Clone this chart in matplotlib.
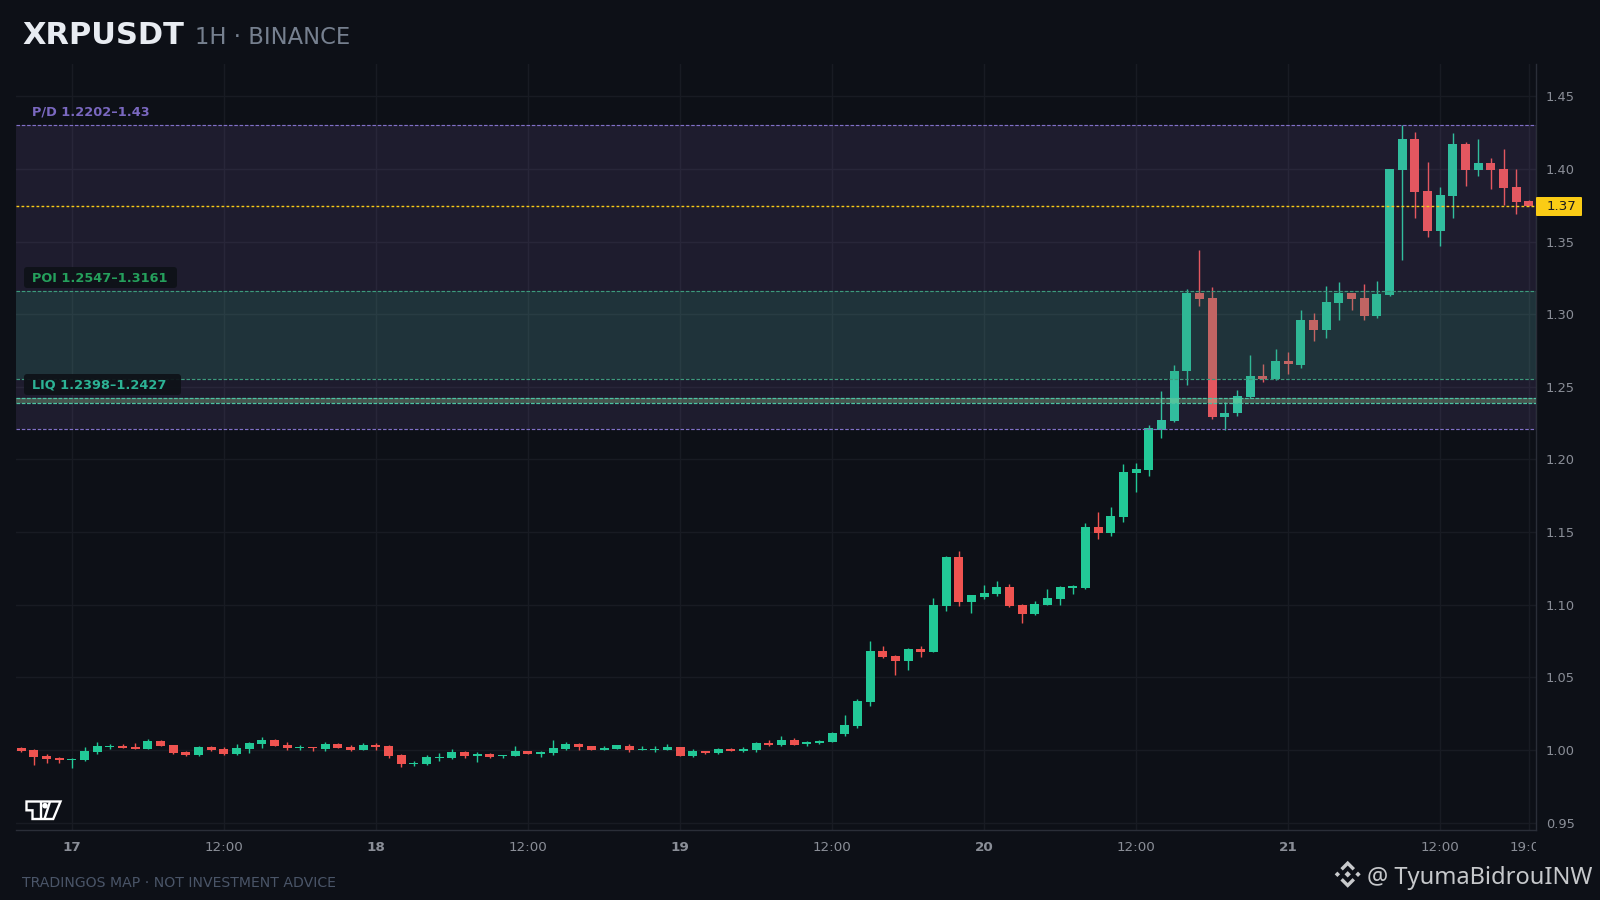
import matplotlib
matplotlib.use("Agg")
import matplotlib.pyplot as plt
import numpy as np
from matplotlib.patches import FancyBboxPatch, Polygon, Circle
from matplotlib.transforms import Affine2D, Bbox

hours = list(range(-4, 116))
opens = [1.0016,1.0002,.9963,.9947,.9933,.9933,.9989,1.0023,1.0030,1.0023,1.0009,1.0064,1.0037,.9989,.9968,1.0023,
 1.0009,.9975,1.0009,1.0044,1.0071,1.0037,1.0016,1.0023,1.0009,1.0044,1.0023,1.0002,1.0037,1.0030,.9968,.9906,
 .9906,.9947,.9947,.9989,.9961,.9975,.9961,.9961,.9995,.9975,.9982,1.0009,1.0044,1.0030,1.0002,1.0009,1.0030,1.0002,
 1.0002,1.0002,1.0023,.9961,.9995,.9982,1.0009,.9995,1.0002,1.0050,1.0037,1.0071,1.0041,1.0048,
 1.0055,1.0110,1.0165,1.0330,1.0681,1.0647,1.0612,1.0695,1.0674,1.0991,1.1328,1.1018,1.1053,1.1073,1.1122,1.0998,
 1.0936,1.0998,1.1039,1.1115,1.1115,1.1534,1.1493,1.1603,1.1906,1.1927,1.2206,1.2268,1.2606,1.3149,1.3108,1.2289,
 1.2317,1.2433,1.2578,1.2555,1.2681,1.2647,1.2963,1.2888,1.3080,1.3149,1.3108,1.2984,1.3135,1.3995,1.4202,1.3851,
 1.3569,1.3810,1.4174,1.3995,1.4037,1.4000,1.3872,1.3782]
closes = [.9995,.9954,.9940,.9933,.9941,.9995,1.0030,1.0030,1.0016,1.0009,1.0064,1.0030,.9982,.9968,1.0023,1.0002,
 .9975,1.0016,1.0050,1.0071,1.0030,1.0016,1.0023,1.0016,1.0044,1.0016,1.0002,1.0037,1.0023,.9961,.9906,.9913,
 .9954,.9954,.9989,.9961,.9975,.9954,.9968,.9995,.9975,.9989,1.0016,1.0044,1.0023,1.0002,1.0016,1.0037,1.0002,1.0009,
 1.0009,1.0023,.9961,.9995,.9982,1.0009,.9995,1.0009,1.0050,1.0037,1.0071,1.0037,1.0055,1.0062,
 1.0117,1.0172,1.0337,1.0681,1.0640,1.0612,1.0695,1.0674,1.0998,1.1328,1.1018,1.1067,1.1080,1.1122,1.0991,1.0936,
 1.1005,1.1046,1.1122,1.1128,1.1534,1.1493,1.1610,1.1913,1.1933,1.2216,1.2275,1.2612,1.3149,1.3101,1.2289,1.2323,
 1.2440,1.2578,1.2557,1.2681,1.2654,1.2963,1.2888,1.3087,1.3149,1.3101,1.2984,1.3142,1.4000,1.4202,1.3844,1.3569,
 1.3817,1.4174,1.3995,1.4037,1.3995,1.3865,1.3775,1.3743]
highs = [1.0023,1.0009,.9975,.9956,.9947,1.0023,1.0057,1.0039,1.0044,1.0050,1.0078,1.0071,1.0037,.9995,1.0030,1.0030,
 1.0023,1.0044,1.0057,1.0092,1.0078,1.0057,1.0037,1.0023,1.0057,1.0050,1.0037,1.0050,1.0050,1.0037,.9975,.9927,
 .9968,.9982,1.0009,.9995,.9989,.9982,.9968,1.0030,.9995,.9995,1.0071,1.0057,1.0050,1.0030,1.0030,1.0037,1.0044,1.0030,
 1.0030,1.0044,1.0023,1.0009,.9995,1.0016,1.0016,1.0023,1.0057,1.0071,1.0099,1.0085,1.0064,1.0069,
 1.0124,1.0241,1.0351,1.0750,1.0716,1.0654,1.0702,1.0716,1.1046,1.1335,1.1369,1.1067,1.1135,1.1163,1.1142,1.1005,
 1.1025,1.1108,1.1128,1.1135,1.1562,1.1638,1.1672,1.1968,1.1975,1.2236,1.2468,1.2647,1.3170,1.3445,1.3184,1.2399,
 1.2475,1.2716,1.2660,1.2757,1.2743,1.3032,1.3011,1.3197,1.3218,1.3149,1.3211,1.3225,1.4000,1.4300,1.4257,1.4044,
 1.3878,1.4250,1.4188,1.4202,1.4078,1.4140,1.4000,1.3789]
lows = [.9984,.9901,.9913,.9913,.9878,.9927,.9975,1.0009,1.0016,1.0009,1.0009,1.0030,.9975,.9961,.9961,.9995,
 .9968,.9968,.9982,1.0016,1.0030,1.0002,1.0002,.9995,.9995,1.0016,.9995,1.0002,1.0002,.9947,.9885,.9892,
 .9899,.9927,.9940,.9947,.9920,.9947,.9947,.9961,.9975,.9954,.9968,1.0002,1.0002,1.0002,1.0002,1.0009,.9989,1.0002,
 .9989,1.0002,.9961,.9954,.9975,.9975,.9995,.9989,.9989,1.0030,1.0030,1.0037,1.0030,1.0041,
 1.0055,1.0096,1.0151,1.0303,1.0633,1.0516,1.0550,1.0640,1.0674,1.0956,1.0991,1.0943,1.1039,1.1060,1.0984,1.0874,
 1.0929,1.0998,1.0998,1.1073,1.1108,1.1452,1.1472,1.1569,1.1775,1.1885,1.2145,1.2255,1.2516,1.3053,1.2282,1.2200,
 1.2296,1.2420,1.2530,1.2544,1.2585,1.2633,1.2812,1.2839,1.2963,1.3032,1.2963,1.2977,1.3122,1.3376,1.3665,1.3534,
 1.3466,1.3665,1.3885,1.3954,1.3858,1.3748,1.3686,1.3743]

y_ticks = [0.95,1.00,1.05,1.10,1.15,1.20,1.25,1.30,1.35,1.40,1.45]
x_ticks = [0,12,24,36,48,60,72,84,96,108,115]
x_labels = ["17","12:00","18","12:00","19","12:00","20","12:00","21","12:00","19:00"]
pd_zone = (1.2209, 1.43)
poi_zone = (1.2553, 1.3161)
liq_zone = (1.2392, 1.2426)
last_price = 1.3743

BG = "#0d1017"
GREEN = "#22c997"
RED = "#ef5350"
GRID = "#181b23"
BORDER = "#2a2e38"
TICK = "#8a8e97"

plt.rcParams["font.family"] = "DejaVu Sans"
fig = plt.figure(figsize=(16, 9), dpi=100, facecolor=BG)
L, R, T, B = 16, 1536, 64, 830
ax = fig.add_axes([L/1600, 1-B/900, (R-L)/1600, (B-T)/900], facecolor=BG)
ax.set_xlim(-4.41, 115.56)
ax.set_ylim(0.94505, 1.47215)

ax.set_xticks(x_ticks)
ax.set_xticklabels(x_labels)
ax.set_yticks(y_ticks)
ax.set_yticklabels([f"{v:.2f}" for v in y_ticks])
ax.yaxis.tick_right()
ax.tick_params(axis="x", length=0, colors=TICK, labelsize=9.7, pad=8)
ax.tick_params(axis="y", length=0, colors=TICK, labelsize=9.4, pad=7)
ax.grid(True, color=GRID, lw=1.0, zorder=0)
ax.set_axisbelow(True)
for s in ["left", "top"]:
    ax.spines[s].set_visible(False)
for s in ["right", "bottom"]:
    ax.spines[s].set_color(BORDER)
    ax.spines[s].set_linewidth(1.0)

px = Affine2D().scale(1, -1).translate(0, 900)
for lab, txt in zip(ax.get_xticklabels(), x_labels):
    if len(txt) == 2:
        lab.set_fontweight("bold")
    lab.set_clip_box(Bbox([[0, 0], [R - 0.5, 900]]))
    lab.set_clip_on(True)

h = np.array(hours)
o, c, hi, lo = map(np.array, (opens, closes, highs, lows))
colors = np.where(c >= o, GREEN, RED)
ax.vlines(h, lo, hi, colors=colors, lw=1.0, zorder=2)
ax.bar(h, np.abs(c - o), bottom=np.minimum(o, c), width=0.71, color=colors, lw=0, zorder=3)

ax.axhspan(*pd_zone, color="#9673cf", alpha=0.13, lw=0, zorder=4)
ax.axhspan(*poi_zone, color="#29a171", alpha=0.18, lw=0, zorder=4.1)
ax.axhspan(*liq_zone, color="#a3da99", alpha=0.30, lw=0, zorder=4.2)
for v in pd_zone:
    ax.axhline(v, color="#8170c8", lw=0.85, ls=(0, (3, 1.5)), zorder=5)
for v in poi_zone:
    ax.axhline(v, color="#3d9a7c", lw=0.85, ls=(0, (3, 1.5)), zorder=5)
for v in liq_zone:
    ax.axhline(v, color="#4cc2a2", lw=0.9, ls=(0, (3, 1.2)), zorder=5)
ax.axhline(last_price, color="#facc15", lw=1.0, ls=(0, (2, 1.6)), zorder=6)

# price tag
fig.add_artist(FancyBboxPatch((1536, 197), 46, 19, boxstyle="round,pad=0,rounding_size=1",
                              transform=px, fc="#facc15", ec="none", zorder=10))
fig.text(1561/1600, 1-206.5/900, "1.37", color="#1a1a1f", fontsize=9.6, ha="center", va="center", zorder=11)

# zone labels
def label(x, y, text, color, box=None):
    if box is not None:
        fig.add_artist(FancyBboxPatch((box[0], box[1]), box[2], box[3], boxstyle="round,pad=0,rounding_size=3",
                                      transform=px, fc="#0e1218", ec="none", alpha=0.93, zorder=8))
    fig.text(x/1600, 1-y/900, text, color=color, fontsize=9.3, fontweight="bold", ha="left", va="center", zorder=9)

label(32, 112.3, "P/D 1.2202–1.43", "#7a68c0")
label(32, 278, "POI 1.2547–1.3161", "#25a05c", (24, 267, 153, 21))
label(32, 385, "LIQ 1.2398–1.2427", "#2cb295", (24, 374, 157, 21))

# header
fig.text(22/1600, 1-44/900, "XRPUSDT", color="#e8ecf2", fontsize=22, fontweight="bold", ha="left", va="baseline")
fig.text(195/1600, 1-44/900, "1H · BINANCE", color="#76808f", fontsize=16.3, ha="left", va="baseline")

# footer
fig.text(22/1600, 1-883/900, "TRADINGOS MAP · NOT INVESTMENT ADVICE", color="#4a5568", fontsize=10.05, ha="left", va="center")
fig.text(1367/1600, 1-883.5/900, "@ TyumaBidrouINW", color="#c6c8cb", fontsize=17.05,
         family="Noto Sans", ha="left", va="baseline")

# Binance mark
cx, cy = 1347.7, 874.3
LOGO = "#c8cacc"
def diamond(dx, dy, r):
    return [(cx+dx, cy+dy-r), (cx+dx+r, cy+dy), (cx+dx, cy+dy+r), (cx+dx-r, cy+dy)]
for dx, dy, r in [(0, 0, 3.2), (-10.3, 0, 2.7), (10.3, 0, 2.7)]:
    fig.add_artist(Polygon(diamond(dx, dy, r), transform=px, fc=LOGO, ec="none", zorder=10))
for s in (1, -1):
    chev = [(cx, cy-13.5*s), (cx+7.3, cy-6.2*s), (cx+4.9, cy-3.8*s), (cx, cy-8.7*s), (cx-4.9, cy-3.8*s), (cx-7.3, cy-6.2*s)]
    fig.add_artist(Polygon(chev, transform=px, fc=LOGO, ec="none", zorder=10))

# TV mark
tv_outer = [(26.5, 801.5), (60.5, 801.5), (53.2, 819), (32.5, 819), (32.5, 810.3), (26.5, 810.3)]
fig.add_artist(Polygon(tv_outer, transform=px, fc=BG, ec="white", lw=1.7, joinstyle="miter", zorder=10))
fig.add_artist(Polygon([(41, 801.5), (41, 819)], closed=False, transform=px, fc="none", ec="white", lw=1.7, zorder=11))
fig.add_artist(Polygon([(50, 801.5), (44.5, 819)], closed=False, transform=px, fc="none", ec="white", lw=1.7, zorder=11))
fig.add_artist(Circle((45, 805.7), 2.8, transform=px, fc="white", ec="none", zorder=12))

fig.savefig("out.png", dpi=100, facecolor=BG)
